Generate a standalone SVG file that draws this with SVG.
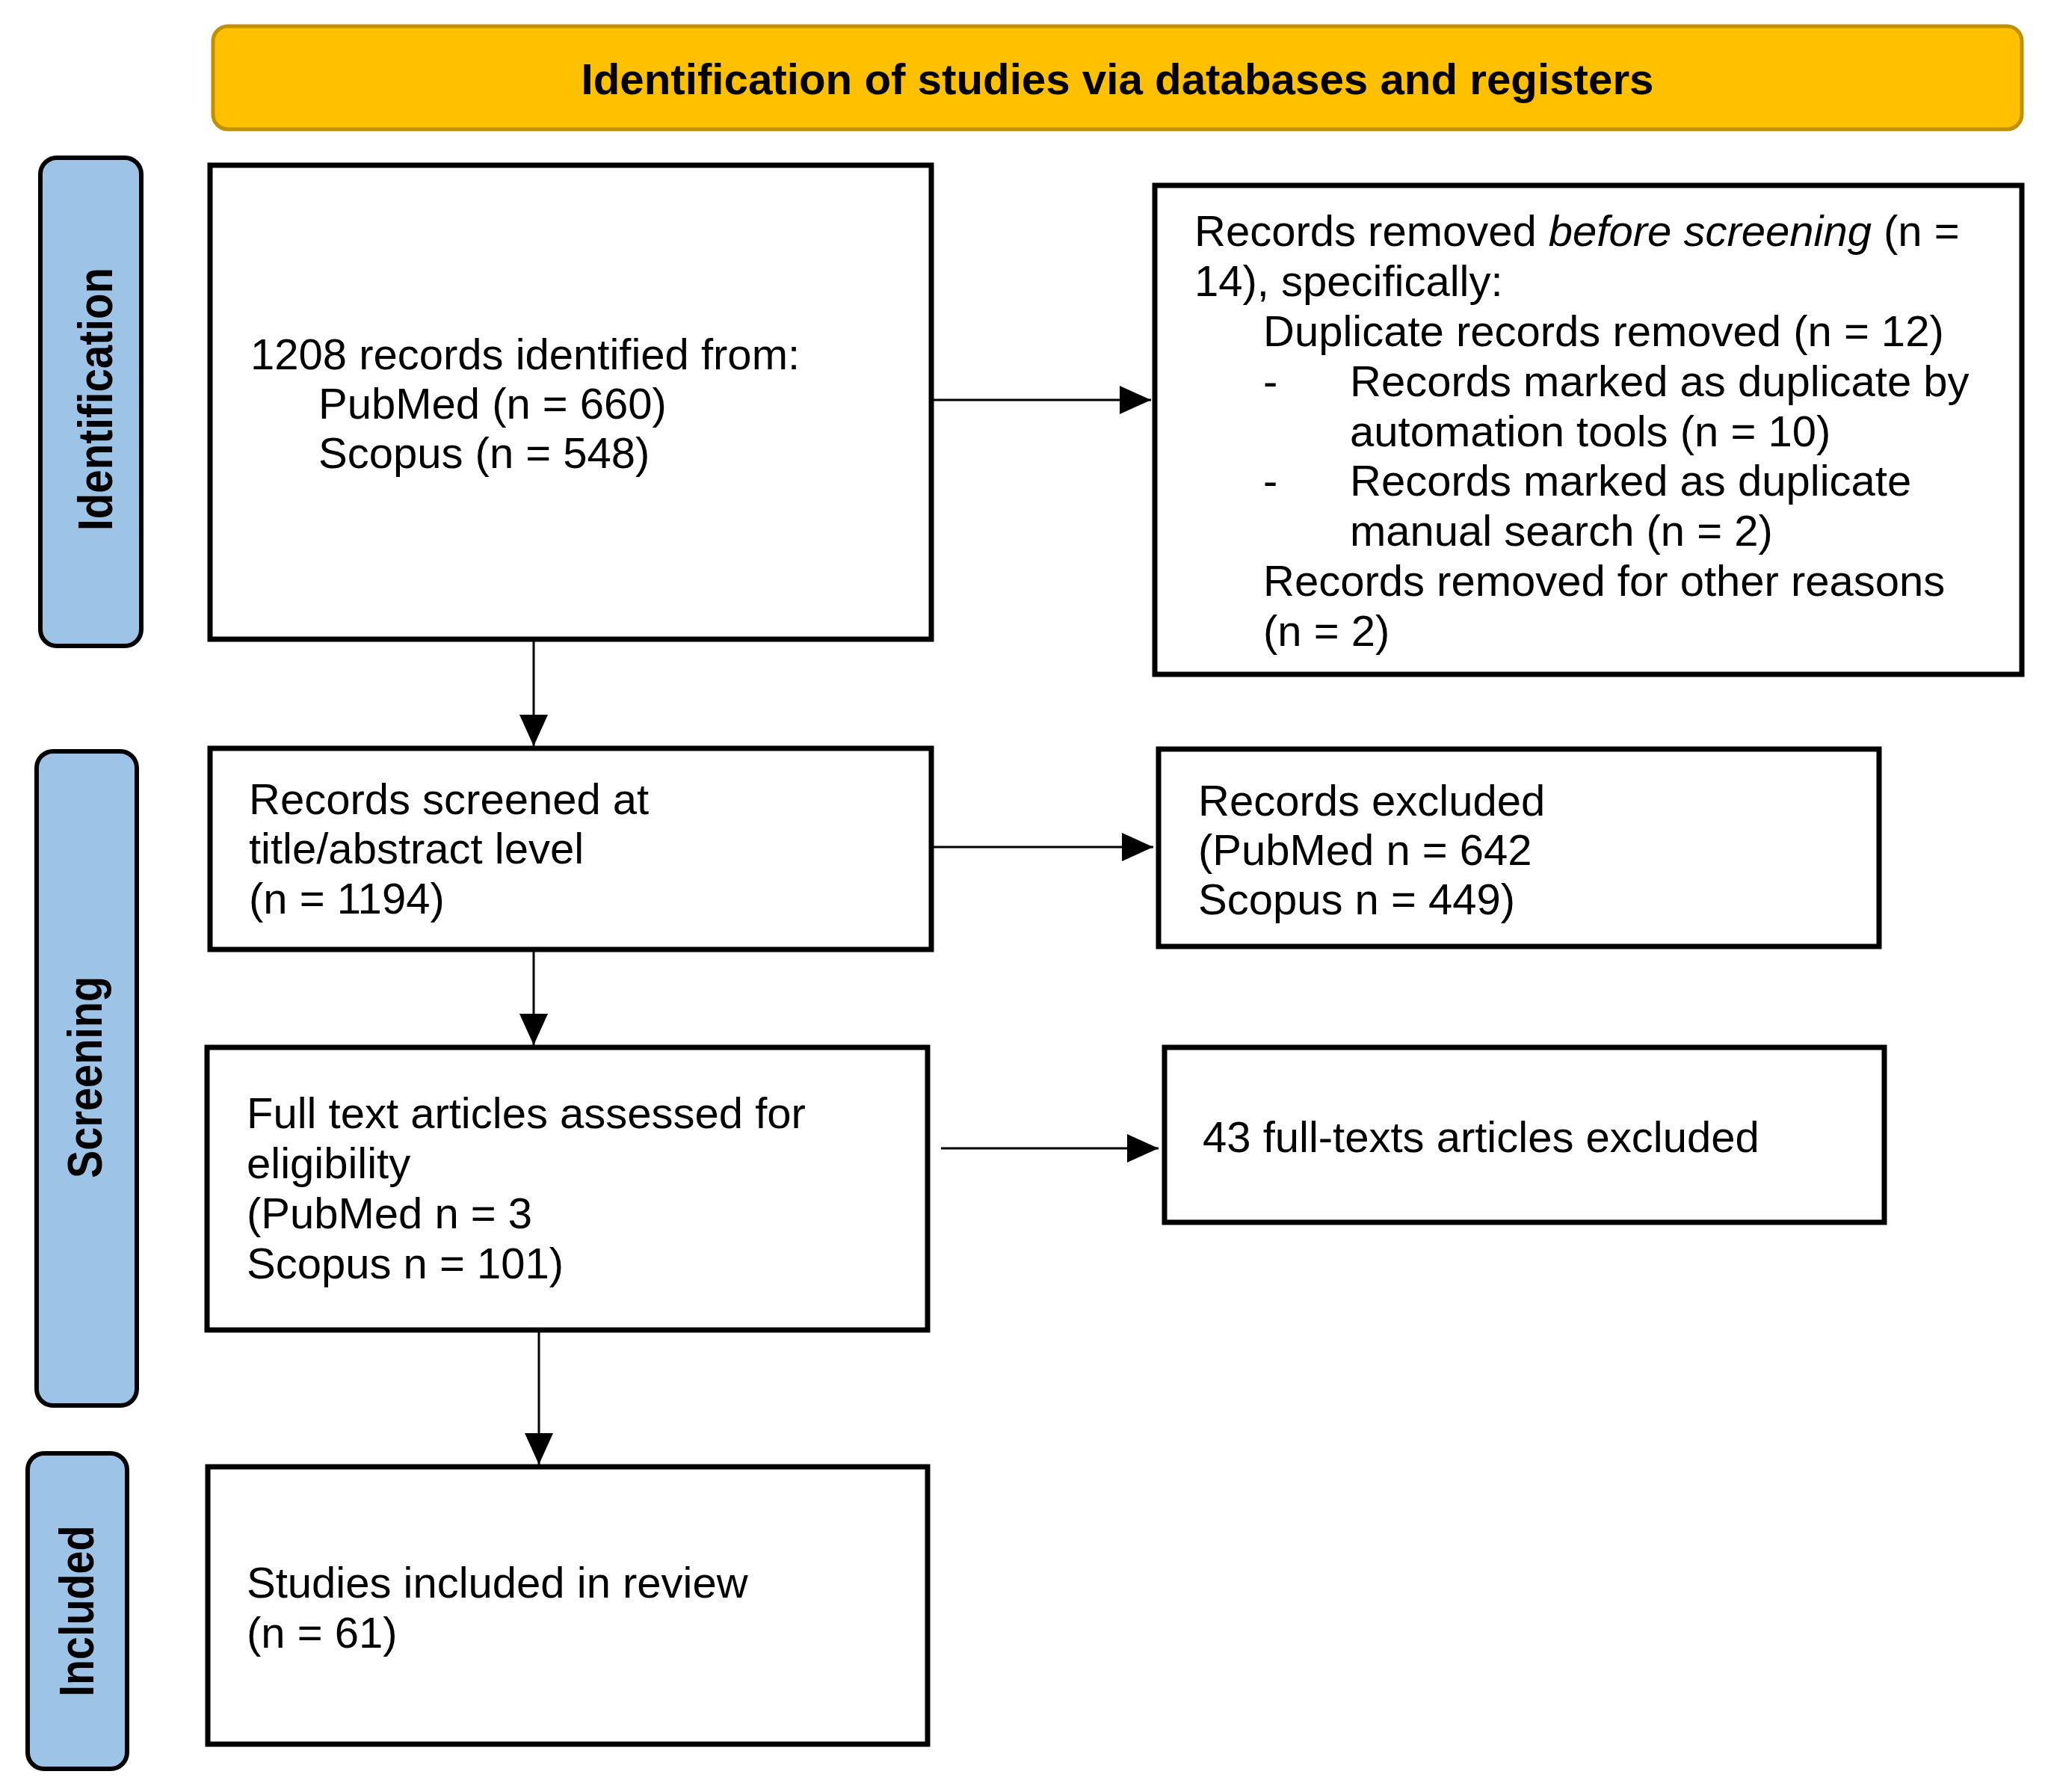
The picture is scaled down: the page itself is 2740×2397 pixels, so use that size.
<svg xmlns="http://www.w3.org/2000/svg" width="2740" height="2397" viewBox="0 0 2740 2397">
<style>
.box{fill:#ffffff;stroke:#000000;stroke-width:7}
.lab{fill:#9DC3E6;stroke:#000000;stroke-width:6}
.ban{fill:#FFC000;stroke:#BF9000;stroke-width:5}
.t{font-family:"Liberation Sans",Arial,sans-serif;font-size:58px;fill:#000000}
.lt{font-family:"Liberation Sans",Arial,sans-serif;font-size:64px;font-weight:bold;fill:#000000}
.bt{font-family:"Liberation Sans",Arial,sans-serif;font-size:58px;font-weight:bold;fill:#000000}
.con{stroke:#000000;stroke-width:3;fill:none}
</style>
<defs>
<marker id="arr" markerUnits="userSpaceOnUse" markerWidth="42" markerHeight="38" refX="42" refY="19" orient="auto">
<path d="M0,0 L42,19 L0,38 z" fill="#000000"/>
</marker>
</defs>
<rect width="2740" height="2397" fill="#ffffff"/>
<g id="banner">
<rect class="ban" x="285" y="35" width="2420" height="138" rx="20"/>
<text class="bt" x="1495" y="126" text-anchor="middle" textLength="1435" lengthAdjust="spacingAndGlyphs">Identification of studies via databases and registers</text>
</g>
<g id="label-identification">
<rect class="lab" x="54" y="211" width="135" height="653" rx="22"/>
<text class="lt" transform="translate(150,534) rotate(-90)" text-anchor="middle" textLength="352" lengthAdjust="spacingAndGlyphs">Identification</text>
</g>
<g id="label-screening">
<rect class="lab" x="49" y="1005" width="134" height="875" rx="22"/>
<text class="lt" transform="translate(136,1441) rotate(-90)" text-anchor="middle" textLength="270" lengthAdjust="spacingAndGlyphs">Screening</text>
</g>
<g id="label-included">
<rect class="lab" x="37" y="1944" width="133" height="422" rx="22"/>
<text class="lt" transform="translate(125,2155) rotate(-90)" text-anchor="middle" textLength="229" lengthAdjust="spacingAndGlyphs">Included</text>
</g>
<g id="node-identified">
<rect class="box" x="281" y="221" width="965" height="634"/>
<text class="t"><tspan x="335" y="494">1208 records identified from:</tspan><tspan x="426" y="560">PubMed (n = 660)</tspan><tspan x="426" y="626">Scopus (n = 548)</tspan></text>
</g>
<g id="node-removed">
<rect class="box" x="1545" y="248" width="1160" height="654"/>
<text class="t"><tspan x="1598" y="329">Records removed <tspan font-style="italic">before screening</tspan> (n =</tspan><tspan x="1598" y="396">14), specifically:</tspan><tspan x="1690" y="463">Duplicate records removed (n = 12)</tspan><tspan x="1690" y="530">-</tspan><tspan x="1806" y="530">Records marked as duplicate by</tspan><tspan x="1806" y="597">automation tools (n = 10)</tspan><tspan x="1690" y="663">-</tspan><tspan x="1806" y="663">Records marked as duplicate</tspan><tspan x="1806" y="730">manual search (n = 2)</tspan><tspan x="1690" y="797">Records removed for other reasons</tspan><tspan x="1690" y="864">(n = 2)</tspan></text>
</g>
<g id="node-screened">
<rect class="box" x="281" y="1001" width="965" height="269"/>
<text class="t"><tspan x="333" y="1089">Records screened at</tspan><tspan x="333" y="1155">title/abstract level</tspan><tspan x="333" y="1222">(n = 1194)</tspan></text>
</g>
<g id="node-excluded">
<rect class="box" x="1550" y="1002" width="964" height="264"/>
<text class="t"><tspan x="1603" y="1091">Records excluded</tspan><tspan x="1603" y="1157">(PubMed n = 642</tspan><tspan x="1603" y="1223">Scopus n = 449)</tspan></text>
</g>
<g id="node-fulltext">
<rect class="box" x="277" y="1401" width="964" height="378"/>
<text class="t"><tspan x="330" y="1509">Full text articles assessed for</tspan><tspan x="330" y="1576">eligibility</tspan><tspan x="330" y="1643">(PubMed n = 3</tspan><tspan x="330" y="1710">Scopus n = 101)</tspan></text>
</g>
<g id="node-ftexcluded">
<rect class="box" x="1558" y="1401" width="963" height="234"/>
<text class="t"><tspan x="1609" y="1541">43 full-texts articles excluded</tspan></text>
</g>
<g id="node-included">
<rect class="box" x="278" y="1962" width="963" height="371"/>
<text class="t"><tspan x="330" y="2137">Studies included in review</tspan><tspan x="330" y="2204">(n = 61)</tspan></text>
</g>
<g id="connectors">
<line class="con" x1="714" y1="858" x2="714" y2="998" marker-end="url(#arr)"/>
<line class="con" x1="714" y1="1273" x2="714" y2="1398" marker-end="url(#arr)"/>
<line class="con" x1="721" y1="1782" x2="721" y2="1959" marker-end="url(#arr)"/>
<line class="con" x1="1249" y1="535" x2="1540" y2="535" marker-end="url(#arr)"/>
<line class="con" x1="1249" y1="1133" x2="1543" y2="1133" marker-end="url(#arr)"/>
<line class="con" x1="1259" y1="1536" x2="1550" y2="1536" marker-end="url(#arr)"/>
</g>
</svg>
